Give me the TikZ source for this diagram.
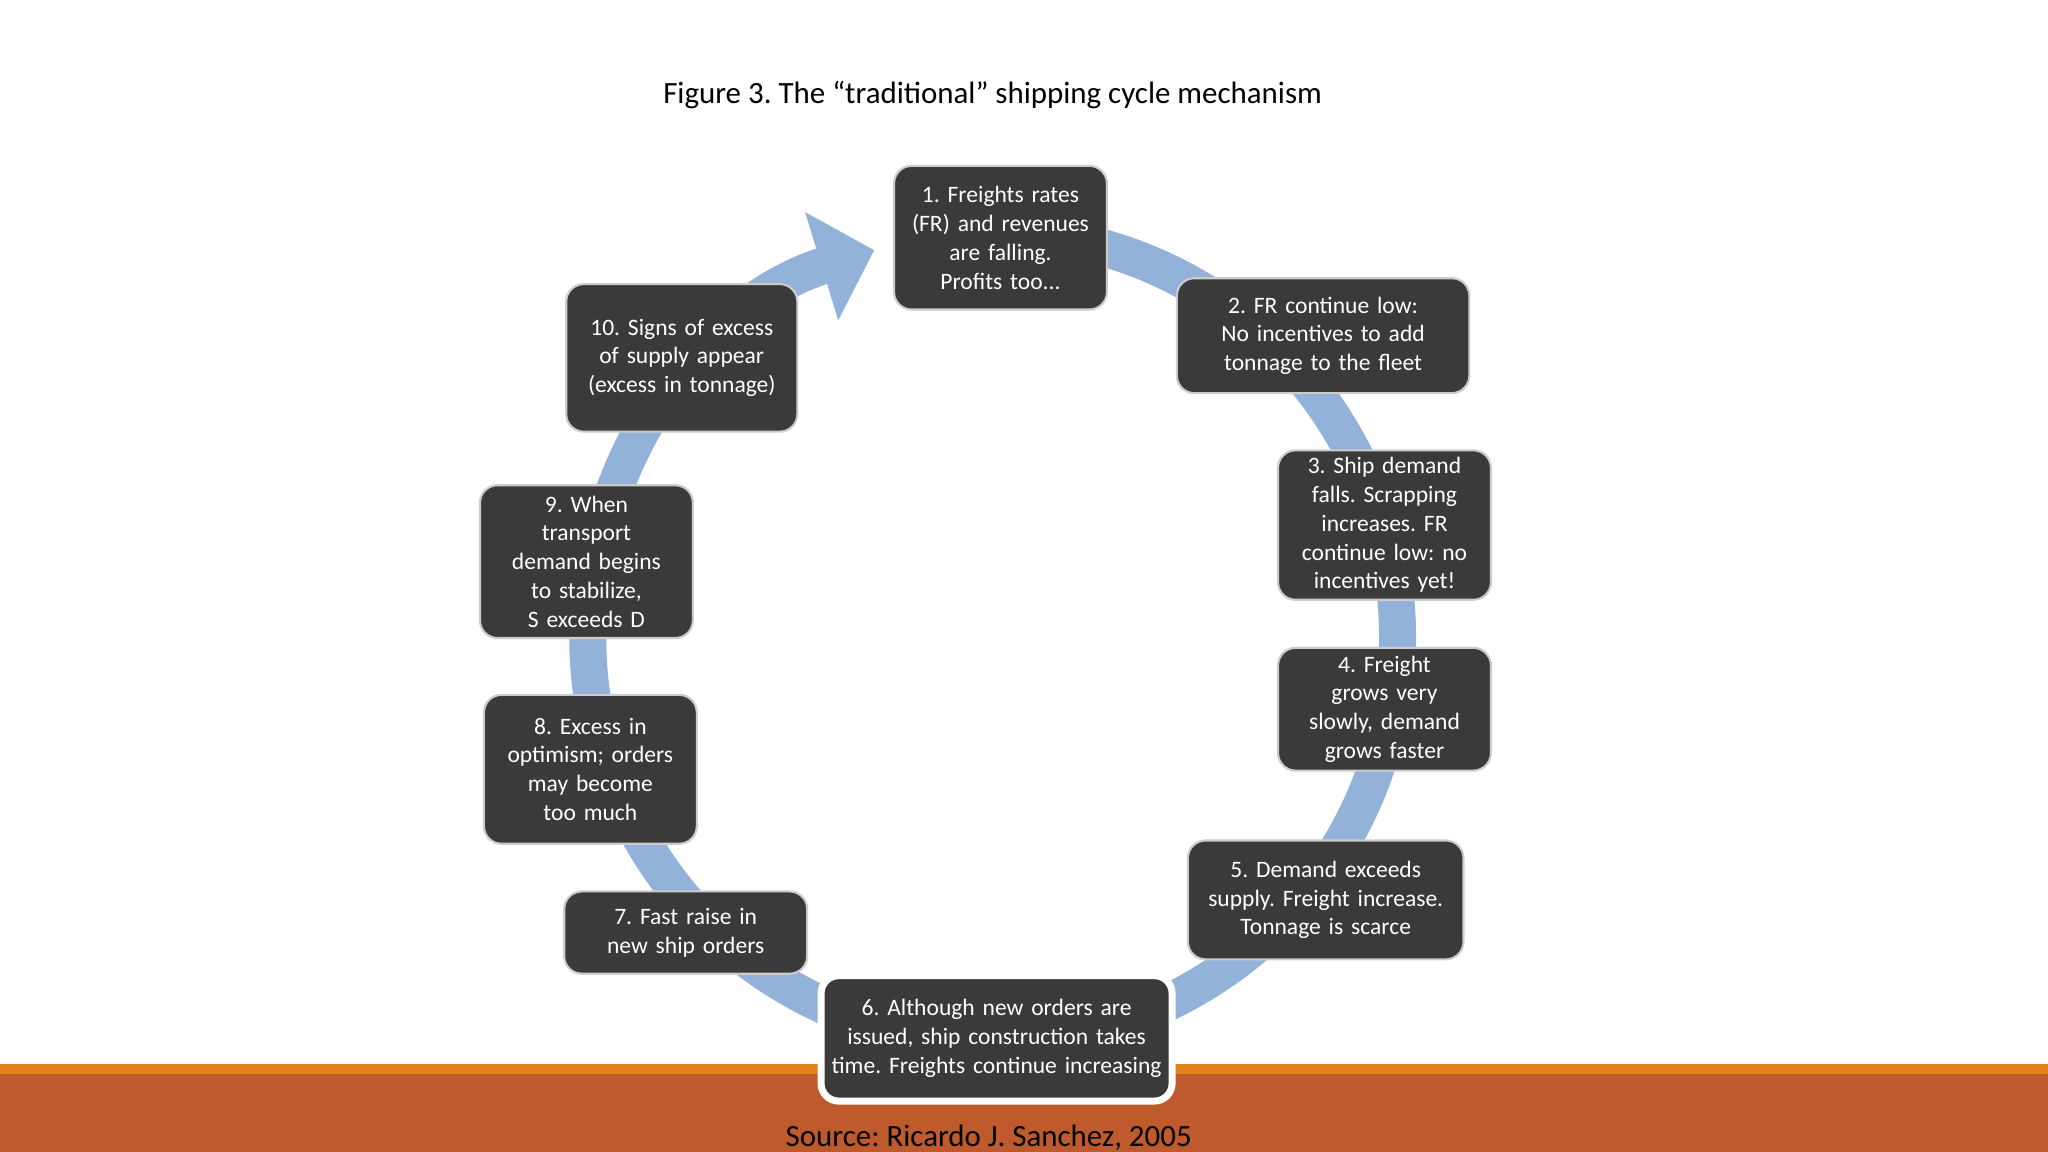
\documentclass[tikz,border=0pt]{standalone}
\usepackage{fontspec}
\setmainfont{Carlito}
\usetikzlibrary{arrows.meta}
\definecolor{ring}{RGB}{146,178,218}
\definecolor{boxc}{RGB}{58,58,58}
\definecolor{barA}{RGB}{227,129,26}
\definecolor{barB}{RGB}{190,90,44}
\frenchspacing
\hyphenpenalty=10000
\exhyphenpenalty=10000
\begin{document}
\begin{tikzpicture}[x=0.01306cm,y=-0.01306cm,
  box/.style={draw=gray!40,line width=0.6pt,fill=boxc,rounded corners=5pt,text=white,align=center,inner sep=2pt,font=\fontsize{6.7}{8.2}\selectfont},
  lbl/.style={font=\fontsize{8.8}{10}\selectfont}]
\clip (0,0) rectangle (1568,882);
\fill[white] (0,0) rectangle (1568,882);
\fill[barA] (0,815) rectangle (1568,822);
\fill[barB] (0,822) rectangle (1568,882);
\node[lbl] (title) at (760,73) {Figure 3. The “traditional” shipping cycle mechanism};
\node[lbl,anchor=north] (src) at (757,852) {Source: Ricardo J. Sanchez, 2005};
\draw[ring,line width=0.37cm,-{Triangle[width=1.1cm,length=0.55cm]}] (760,178) arc[start angle=-90,end angle=253,radius=310];
\node[box,minimum width=163*0.01306cm,minimum height=110*0.01306cm,text width=150*0.01306cm] (n1) at (766,182) {1. Freights rates (FR) and revenues are falling. Profits too...};
\node[box,minimum width=224*0.01306cm,minimum height=88*0.01306cm,text width=205*0.01306cm] (n2) at (1013,257) {2. FR continue low: No incentives to add tonnage to the fleet};
\node[box,minimum width=163*0.01306cm,minimum height=112*0.01306cm,text width=150*0.01306cm] (n3) at (1060,402) {3. Ship demand falls. Scrapping increases. FR continue low: no incentives yet!};
\node[box,minimum width=163*0.01306cm,minimum height=94*0.01306cm,text width=148*0.01306cm] (n4) at (1060,543) {4. Freight grows very slowly, demand grows faster};
\node[box,minimum width=211*0.01306cm,minimum height=91*0.01306cm,text width=195*0.01306cm] (n5) at (1015,689) {5. Demand exceeds supply. Freight increase. Tonnage is scarce};
\node[box,draw=white,line width=2pt,minimum width=267*0.01306cm,minimum height=96*0.01306cm,text width=258*0.01306cm] (n6) at (763,795) {6. Although new orders are issued, ship construction takes time. Freights continue increasing};
\node[box,minimum width=186*0.01306cm,minimum height=63*0.01306cm,text width=165*0.01306cm] (n7) at (525,714) {7. Fast raise in new ship orders};
\node[box,minimum width=163*0.01306cm,minimum height=114*0.01306cm,text width=150*0.01306cm] (n8) at (452,589) {8. Excess in optimism; orders may become too much};
\node[box,minimum width=163*0.01306cm,minimum height=117*0.01306cm,text width=130*0.01306cm] (n9) at (449,430) {9. When transport demand begins to stabilize, S exceeds D};
\node[box,minimum width=177*0.01306cm,minimum height=113*0.01306cm,text width=160*0.01306cm] (n10) at (522,274) {10. Signs of excess of supply appear (excess in tonnage)};
\end{tikzpicture}
\end{document}
